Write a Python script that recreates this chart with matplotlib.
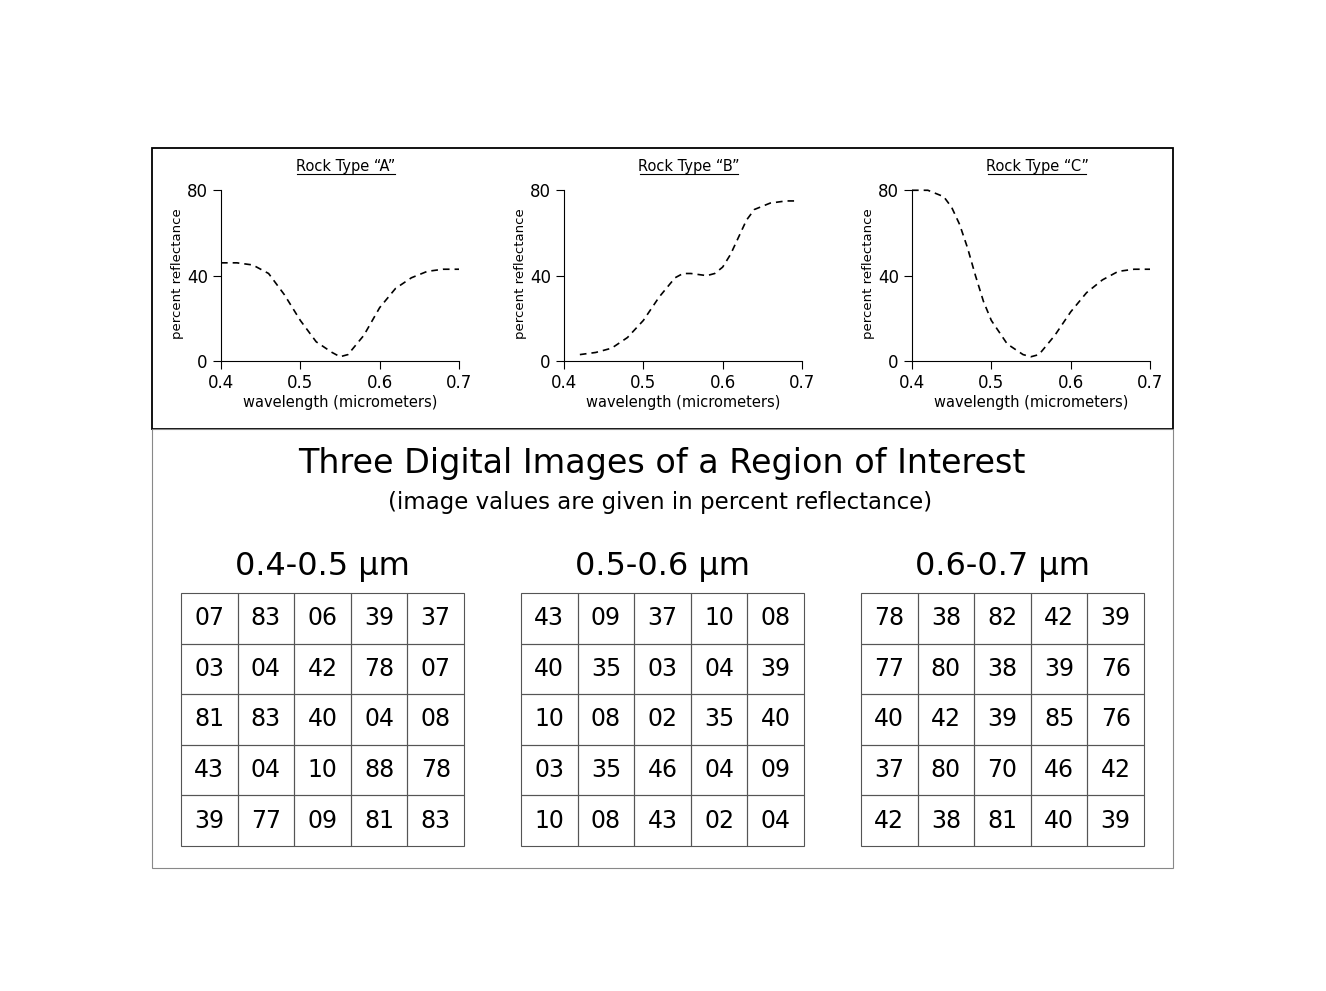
import matplotlib.pyplot as plt
from matplotlib.patches import Rectangle
from matplotlib.lines import Line2D

titles = ['Rock Type \u201cA\u201d', 'Rock Type \u201cB\u201d', 'Rock Type \u201cC\u201d']
wl_a = [0.40, 0.42, 0.44, 0.46, 0.48, 0.50, 0.52, 0.54, 0.55, 0.56, 0.58, 0.60, 0.62, 0.64, 0.66, 0.68, 0.70]
rf_a = [46, 46, 45, 41, 31, 19, 9, 4, 2, 3, 12, 25, 34, 39, 42, 43, 43]
wl_b = [0.42, 0.44, 0.46, 0.48, 0.50, 0.52, 0.54, 0.55, 0.56, 0.58, 0.59, 0.60, 0.61, 0.62, 0.63, 0.64, 0.66, 0.68, 0.69]
rf_b = [3, 4, 6, 11, 19, 30, 39, 41, 41, 40, 41, 44, 50, 58, 66, 71, 74, 75, 75]
wl_c = [0.40, 0.42, 0.44, 0.45, 0.46, 0.47, 0.48, 0.49, 0.50, 0.52, 0.54, 0.55, 0.56, 0.58, 0.60, 0.62, 0.64, 0.66, 0.68, 0.70]
rf_c = [80, 80, 77, 72, 64, 53, 40, 28, 19, 8, 3, 2, 3, 12, 23, 32, 38, 42, 43, 43]
curves = [(wl_a, rf_a), (wl_b, rf_b), (wl_c, rf_c)]

main_title = 'Three Digital Images of a Region of Interest'
sub_title = '(image values are given in percent reflectance)'
bands = ['0.4-0.5 \u03bcm', '0.5-0.6 \u03bcm', '0.6-0.7 \u03bcm']
img1 = [['07', '83', '06', '39', '37'], ['03', '04', '42', '78', '07'], ['81', '83', '40', '04', '08'],
        ['43', '04', '10', '88', '78'], ['39', '77', '09', '81', '83']]
img2 = [['43', '09', '37', '10', '08'], ['40', '35', '03', '04', '39'], ['10', '08', '02', '35', '40'],
        ['03', '35', '46', '04', '09'], ['10', '08', '43', '02', '04']]
img3 = [['78', '38', '82', '42', '39'], ['77', '80', '38', '39', '76'], ['40', '42', '39', '85', '76'],
        ['37', '80', '70', '46', '42'], ['42', '38', '81', '40', '39']]
images = [img1, img2, img3]

W, H = 1326, 991
fig = plt.figure(figsize=(W / 100, H / 100), dpi=100)
bg = fig.add_axes([0, 0, 1, 1])
bg.set_xlim(0, W)
bg.set_ylim(H, 0)
bg.axis('off')

# boxes
bg.add_patch(Rectangle((152, 148), 1021, 281, fill=False, lw=1.3, ec='black'))
bg.add_patch(Rectangle((152, 429), 1021, 439, fill=False, lw=0.8, ec='#888888'))

# spectral plots
x0s = [221, 564, 912]
for i, (wl, rf) in enumerate(curves):
    left = x0s[i]
    ax = fig.add_axes([left / W, 1 - 361 / H, 238 / W, 175 / H])
    ax.plot(wl, rf, 'k--', lw=1.2, dashes=(4, 3))
    ax.set_xlim(0.4, 0.7)
    ax.set_ylim(0, 82)
    ax.spines['top'].set_visible(False)
    ax.spines['right'].set_visible(False)
    ax.spines['left'].set_bounds(0, 80)
    ax.set_xticks([0.4, 0.5, 0.6, 0.7])
    ax.set_xticklabels(['0.4', '0.5', '0.6', '0.7'])
    ax.set_yticks([0, 40, 80])
    ax.tick_params(labelsize=12, length=6, direction='out')
    ax.set_xlabel('wavelength (micrometers)', fontsize=10.5, labelpad=2)
    ax.set_ylabel('percent reflectance', fontsize=9.5, labelpad=2)
    t = bg.text(left + 125, 166, titles[i], fontsize=10.5, ha='center', va='center')
    bg.add_line(Line2D([left + 125 - 49, left + 125 + 49], [174, 174], color='black', lw=0.8))

bg.text(662, 463, main_title, fontsize=24, ha='center', va='center')
bg.text(660, 503, sub_title, fontsize=16.5, ha='center', va='center')

tx0 = [181, 521, 861]
cw, chh, ty0 = 56.6, 50.6, 593
for k, img in enumerate(images):
    x0 = tx0[k]
    bg.text(x0 + 2.5 * cw, 567, bands[k], fontsize=23, ha='center', va='center')
    for r, row in enumerate(img):
        for c, v in enumerate(row):
            bg.add_patch(Rectangle((x0 + c * cw, ty0 + r * chh), cw, chh, fill=False, lw=0.8, ec='#555555'))
            bg.text(x0 + (c + 0.5) * cw, ty0 + (r + 0.5) * chh, v, fontsize=17, ha='center', va='center')

fig.savefig('out.png', dpi=100)
